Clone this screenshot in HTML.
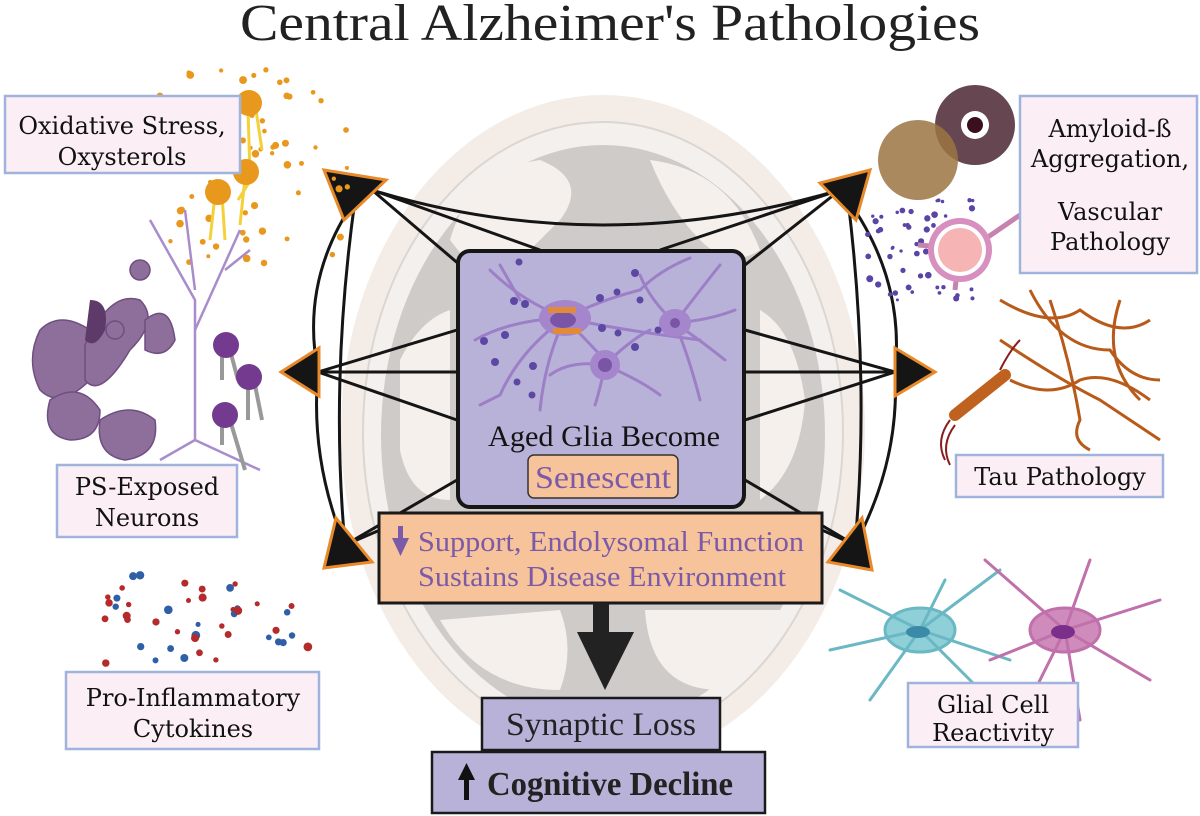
<!DOCTYPE html>
<html><head><meta charset="utf-8"><style>
html,body{margin:0;padding:0;background:#fff;}
svg{display:block;}
.lbl{font-family:"DejaVu Serif","Liberation Serif",serif;font-size:24px;fill:#111;text-anchor:middle;}
.box{fill:#fbeff5;stroke:#9fb3dc;stroke-width:2.5;}
.ln{stroke:#151515;stroke-width:3;fill:none;}
.ah{fill:#151515;stroke:#e8892a;stroke-width:3;stroke-linejoin:miter;}
.br{stroke:#9c7fc6;stroke-width:3;fill:none;stroke-linecap:round;}
</style></head><body>
<svg id="s" width="1200" height="816" viewBox="0 0 1200 816" xmlns="http://www.w3.org/2000/svg">
<text x="610" y="40" font-family="Liberation Serif,serif" font-size="52" fill="#222" text-anchor="middle" textLength="740" lengthAdjust="spacingAndGlyphs">Central Alzheimer's Pathologies</text>

<!-- brain -->
<ellipse cx="603" cy="430" rx="262" ry="335" fill="#f3ece7"/>
<ellipse cx="603" cy="432" rx="240" ry="310" fill="#f4f0ed" stroke="#dcd6d1" stroke-width="2"/>
<ellipse cx="603" cy="435" rx="222" ry="290" fill="#cfcbc8"/>
<g fill="#f6f0ed">
<path d="M450 240 Q470 170 540 160 Q590 180 560 220 Q530 250 490 290 Z"/>
<path d="M650 160 Q730 170 760 250 Q730 270 700 240 Q670 210 650 160Z"/>
<path d="M400 360 Q420 320 450 310 L450 500 Q410 500 400 450Z"/>
<path d="M760 310 Q795 330 805 400 Q800 470 760 500Z"/>
<path d="M440 620 Q480 690 560 690 Q575 650 560 610Z"/>
<path d="M645 610 Q650 690 720 690 Q775 650 780 610Z"/>
</g>

<!-- connectors -->
<g class="ln">
<path d="M372 190 Q600 260 840 190"/>
<path d="M372 190 L540 250"/><path d="M372 190 L460 265"/>
<path d="M840 190 L660 250"/><path d="M840 190 L745 265"/>
<path d="M318 372 L457 330"/><path d="M318 372 L457 372"/><path d="M318 372 L457 420"/>
<path d="M895 372 L745 330"/><path d="M895 372 L745 372"/><path d="M895 372 L745 420"/>
<path d="M345 545 L457 480"/><path d="M345 545 L380 530"/>
<path d="M855 545 L745 480"/><path d="M855 545 L822 530"/>
<path d="M355 200 Q300 280 318 372"/><path d="M355 200 Q330 380 345 545"/><path d="M318 372 Q310 460 345 545"/>
<path d="M848 200 Q905 280 895 372"/><path d="M848 200 Q870 380 855 545"/><path d="M895 372 Q900 460 855 545"/>
</g>
<polygon class="ah" points="324,170 386,180 344,220"/>
<polygon class="ah" points="281,372 319,348 319,396"/>
<polygon class="ah" points="324,568 336,518 372,562"/>
<polygon class="ah" points="870,170 820,183 856,220"/>
<polygon class="ah" points="935,372 895,348 895,396"/>
<polygon class="ah" points="872,570 828,562 862,518"/>

<!-- central box -->
<rect x="458" y="251" width="286" height="256" rx="12" fill="#b8b2d9" stroke="#161616" stroke-width="4"/>
<g class="br">
<path d="M565 318 Q520 300 490 270"/><path d="M565 318 Q510 320 475 340"/><path d="M565 318 Q520 350 500 395"/>
<path d="M565 318 Q545 360 540 410"/><path d="M565 318 Q600 300 640 290 Q660 270 690 258"/>
<path d="M565 318 Q620 330 700 340"/><path d="M565 318 L605 360"/>
<path d="M675 323 Q700 290 720 265"/><path d="M675 323 Q710 320 735 310"/><path d="M675 323 Q690 360 700 400"/>
<path d="M675 323 Q650 300 640 275"/><path d="M675 323 Q700 340 725 360"/>
<path d="M605 365 Q570 360 550 375"/><path d="M605 365 Q640 380 660 395"/><path d="M605 365 Q600 390 595 405"/><path d="M605 365 Q630 340 650 330"/>
<path d="M520 300 L500 265"/><path d="M500 395 L480 405"/>
</g>
<ellipse cx="565" cy="318" rx="26" ry="18" fill="#a585cc"/>
<ellipse cx="563" cy="320" rx="13" ry="8" fill="#7a55a6"/>
<rect x="548" y="307" width="28" height="6" fill="#e08a3a"/><rect x="553" y="328" width="28" height="6" fill="#e08a3a"/>
<circle cx="605" cy="365" r="15" fill="#a585cc"/><circle cx="605" cy="365" r="7" fill="#7a55a6"/>
<ellipse cx="675" cy="323" rx="16" ry="14" fill="#a585cc"/><circle cx="675" cy="323" r="5" fill="#7a55a6"/>
<g fill="#5c47a3">
<circle cx="514" cy="301" r="4"/><circle cx="519" cy="262" r="3.5"/><circle cx="525" cy="304" r="4"/><circle cx="505" cy="335" r="4"/>
<circle cx="484" cy="341" r="4"/><circle cx="495" cy="362" r="4"/><circle cx="533" cy="366" r="4"/><circle cx="517" cy="382" r="3.5"/>
<circle cx="532" cy="395" r="3.5"/><circle cx="600" cy="298" r="4"/><circle cx="617" cy="292" r="3.5"/><circle cx="635" cy="273" r="4"/>
<circle cx="602" cy="328" r="4"/><circle cx="618" cy="333" r="3.5"/><circle cx="658" cy="330" r="3.5"/><circle cx="635" cy="347" r="4"/><circle cx="640" cy="300" r="3.5"/>
</g>
<text x="604" y="446" font-family="Liberation Serif,serif" font-size="30" fill="#141414" text-anchor="middle" textLength="232" lengthAdjust="spacingAndGlyphs">Aged Glia Become</text>
<rect x="528" y="455" width="150" height="43" rx="6" fill="#f6c39a" stroke="#333" stroke-width="1.5"/>
<text x="603" y="488" font-family="Liberation Serif,serif" font-size="32" fill="#7b5aa8" text-anchor="middle" textLength="136" lengthAdjust="spacingAndGlyphs">Senescent</text>

<!-- orange box -->
<rect x="379" y="513" width="443" height="90" fill="#f6c39a" stroke="#1a1a1a" stroke-width="3"/>
<text x="418" y="551" font-family="Liberation Serif,serif" font-size="29" fill="#7b5aa8" textLength="386" lengthAdjust="spacingAndGlyphs">Support, Endolysomal Function</text>
<text x="418" y="586" font-family="Liberation Serif,serif" font-size="29" fill="#7b5aa8" textLength="368" lengthAdjust="spacingAndGlyphs">Sustains Disease Environment</text>
<rect x="398" y="526" width="5" height="14" fill="#7b5aa8"/><polygon points="392,538 409,538 400.5,556" fill="#7b5aa8"/>

<rect x="593" y="603" width="16" height="30" fill="#222"/>
<polygon points="577,632 634,632 605,690" fill="#222"/>

<rect x="482" y="698" width="238" height="52" fill="#b8b2d9" stroke="#1a1a1a" stroke-width="2.5"/>
<text x="601" y="735" font-family="Liberation Serif,serif" font-size="33" fill="#222" text-anchor="middle" textLength="190" lengthAdjust="spacingAndGlyphs">Synaptic Loss</text>
<rect x="432" y="752" width="333" height="61" fill="#b8b2d9" stroke="#1a1a1a" stroke-width="2.5"/>
<text x="610" y="795" font-family="Liberation Serif,serif" font-size="34" font-weight="bold" fill="#222" text-anchor="middle" textLength="246" lengthAdjust="spacingAndGlyphs">Cognitive Decline</text>
<rect x="464" y="778" width="5" height="22" fill="#111"/><polygon points="458,780 475,780 466.5,763" fill="#111"/>

<!-- oxidative -->
<g id="oxd" fill="#e8981c"></g>
<g stroke="#f4d03a" stroke-width="3" fill="none">
<path d="M248 110 L250 175"/><path d="M256 110 L262 150"/><path d="M245 178 L240 225"/><path d="M252 178 L238 200"/><path d="M215 195 L210 240"/><path d="M222 195 L225 240"/>
</g>
<g fill="#e8981c"><circle cx="249" cy="103" r="13"/><circle cx="246" cy="172" r="13"/><circle cx="218" cy="192" r="13"/></g>
<rect class="box" x="5" y="96" width="235" height="77"/>
<text class="lbl" x="122" y="134">Oxidative Stress,</text>
<text class="lbl" x="122" y="165">Oxysterols</text>

<!-- PS neurons -->
<g fill="#8e6e9b" stroke="#6e4f80" stroke-width="1.5">
<path d="M40 330 Q60 310 90 330 Q110 350 90 380 Q60 410 40 390 Q25 360 40 330Z"/>
<path d="M85 345 Q110 290 140 300 Q160 320 130 350 Q100 400 85 380Z"/>
<path d="M145 320 Q170 300 175 340 Q165 360 145 350Z"/>
<path d="M50 400 Q80 380 100 410 Q100 440 70 440 Q40 435 50 400Z"/>
<path d="M100 420 Q130 400 155 420 Q160 455 125 460 Q95 455 100 420Z"/>
<circle cx="140" cy="270" r="10"/><circle cx="115" cy="330" r="9"/>
</g>
<path d="M90 300 Q110 300 105 330 Q95 350 85 340Z" fill="#5e3a6a"/>
<g stroke="#a98ccb" stroke-width="2.5" fill="none">
<path d="M195 440 L195 300 L150 220"/><path d="M195 330 L240 230"/><path d="M195 290 L185 210"/><path d="M195 440 L260 470"/><path d="M195 440 L160 460"/><path d="M225 270 L250 250"/>
</g>
<g stroke="#999" stroke-width="4"><path d="M222 350 L222 380"/><path d="M230 350 L238 380"/><path d="M248 385 L248 420"/><path d="M255 385 L262 420"/><path d="M222 420 L222 445"/><path d="M230 420 L245 470"/></g>
<g fill="#733a8f"><circle cx="226" cy="345" r="13"/><circle cx="249" cy="377" r="13"/><circle cx="225" cy="415" r="13"/></g>
<rect class="box" x="57" y="465" width="180" height="72"/>
<text class="lbl" x="147" y="495">PS-Exposed</text>
<text class="lbl" x="147" y="526">Neurons</text>

<!-- cytokines -->
<g id="cyt"></g>
<rect class="box" x="66" y="672" width="253" height="77"/>
<text class="lbl" x="193" y="706">Pro-Inflammatory</text>
<text class="lbl" x="193" y="737">Cytokines</text>

<!-- amyloid -->
<g id="amy"></g>
<circle cx="975" cy="125" r="40" fill="#4a2633" opacity="0.85"/>
<circle cx="975" cy="125" r="14" fill="#fff"/><circle cx="975" cy="125" r="8" fill="#3a1020"/>
<circle cx="918" cy="160" r="40" fill="#9b7442" opacity="0.85"/>
<g stroke="#c783b0" stroke-width="5"><path d="M940 270 L1020 215"/><path d="M918 245 L980 250"/><path d="M960 245 L955 290"/></g>
<circle cx="960" cy="250" r="32" fill="#d68fbf"/>
<circle cx="960" cy="250" r="26" fill="#fff"/><circle cx="960" cy="250" r="22" fill="#f6b4b4"/>
<rect class="box" x="1020" y="96" width="177" height="177"/>
<text class="lbl" x="1110" y="137">Amyloid-ß</text>
<text class="lbl" x="1110" y="167">Aggregation,</text>
<text class="lbl" x="1110" y="220">Vascular</text>
<text class="lbl" x="1110" y="250">Pathology</text>

<!-- tau -->
<g stroke="#b85a1a" stroke-width="3" fill="none">
<path d="M1000 300 Q1050 330 1080 310 Q1120 340 1150 320"/><path d="M1030 290 Q1060 350 1110 350 Q1130 380 1160 380"/>
<path d="M1000 340 Q1060 380 1100 400 Q1130 420 1160 440"/><path d="M1050 300 Q1070 360 1080 420 Q1070 440 1090 450"/>
<path d="M1120 300 Q1100 360 1140 400"/><path d="M1010 380 Q1050 400 1080 380 Q1110 370 1150 400"/>
</g>
<g stroke="#c0621f" stroke-width="12" stroke-linecap="round"><path d="M955 415 L1005 375"/></g>
<g stroke="#8a1e1e" stroke-width="2" fill="none"><path d="M1000 370 Q1010 350 1020 340"/><path d="M950 420 Q935 440 945 460"/><path d="M955 425 Q940 445 950 465"/></g>
<rect class="box" x="956" y="455" width="207" height="42"/>
<text class="lbl" x="1060" y="485">Tau Pathology</text>

<!-- glia -->
<g fill="#8ecfd8" stroke="#6ab8c4" stroke-width="3" stroke-linecap="round">
<ellipse cx="920" cy="630" rx="35" ry="22"/>
<path d="M920 630 L840 590 M920 630 L830 650 M920 630 L870 700 M920 630 L945 580 M920 630 L1000 570 M920 630 L980 690 M920 630 L1010 660" fill="none"/>
</g>
<ellipse cx="918" cy="632" rx="12" ry="6" fill="#3b8aa8"/>
<g fill="#d08bbd" stroke="#c070aa" stroke-width="3" stroke-linecap="round">
<ellipse cx="1065" cy="630" rx="35" ry="22"/>
<path d="M1065 630 L985 560 M1065 630 L990 660 M1065 630 L1090 560 M1065 630 L1160 600 M1065 630 L1150 680 M1065 630 L1080 720 M1065 630 L1030 700" fill="none"/>
</g>
<ellipse cx="1063" cy="632" rx="12" ry="7" fill="#7a2f8a"/>
<rect class="box" x="908" y="683" width="170" height="64"/>
<text class="lbl" x="993" y="713">Glial Cell</text>
<text class="lbl" x="993" y="741">Reactivity</text>
</svg>
<script>
(function(){
var s=7;function r(){s=(s*9301+49297)%233280;return s/233280;}
var ns="http://www.w3.org/2000/svg";
function dots(id,n,x0,y0,w,h,cols,rmin,rmax){var g=document.getElementById(id);for(var i=0;i<n;i++){var c=document.createElementNS(ns,"circle");c.setAttribute("cx",x0+r()*w);c.setAttribute("cy",y0+r()*h);c.setAttribute("r",rmin+r()*(rmax-rmin));c.setAttribute("fill",cols[Math.floor(r()*cols.length)]);g.appendChild(c);}}
dots("oxd",70,155,65,200,200,["#e8981c"],2,4);
dots("cyt",45,105,575,210,90,["#b52a2a","#2f5fa6"],2.5,4.5);
dots("amy",60,865,200,110,100,["#5a45a6"],1.5,3.5);
})();
</script>
</body></html>
